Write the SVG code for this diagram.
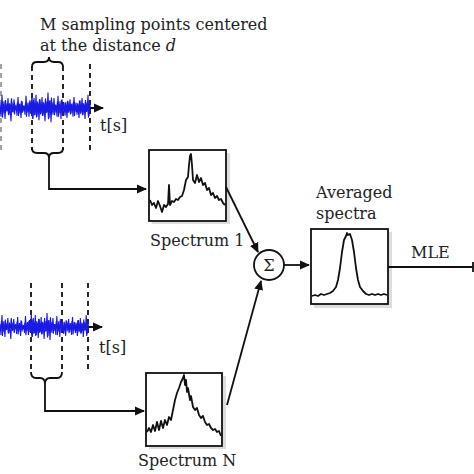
<svg xmlns="http://www.w3.org/2000/svg" width="474" height="474" viewBox="0 0 474 474">
<style>
text{font-family:"DejaVu Serif","Liberation Serif",serif;font-size:16px;fill:#222}
.box{fill:#fff;stroke:#111;stroke-width:1.8}
.spec{fill:none;stroke:#111;stroke-width:1.8;stroke-linejoin:round}
.dash{stroke:#111;stroke-width:1.8;stroke-dasharray:5,4;fill:none}
.ln{stroke:#111;stroke-width:1.8;fill:none}
.sig{fill:none;stroke:#1a1ae6;stroke-width:1.1}
.shadow{fill:#bbb;opacity:0.5}
</style>
<defs>
<marker id="ah" markerWidth="10" markerHeight="10" refX="9" refY="5" orient="auto" markerUnits="userSpaceOnUse">
<path d="M0,0.5 L10,5 L0,9.5 Z" fill="#111"/>
</marker>
<polyline id="noise" points="0,-3 1,8 2,-12 3,5 4,-6 5,10 6,-4 7,3 8,-9 9,6 10,-2 11,12 12,-5 13,4 14,-8 15,2 16,-3 17,7 18,-10 19,5 20,-4 21,9 22,-6 23,3 24,-2 25,6 26,-11 27,4 28,-5 29,8 30,-7 31,3 32,-13 33,10 34,-9 35,6 36,-12 37,8 38,-4 39,11 40,-8 41,5 42,-10 43,7 44,-3 45,12 46,-6 47,4 48,-14 49,9 50,-7 51,13 52,-5 53,6 54,-9 55,4 56,-3 57,8 58,-11 59,5 60,-6 61,10 62,-8 63,4 64,-5 65,7 66,-3 67,9 68,-6 69,2 70,-8 71,5 72,-4 73,8 74,-10 75,3 76,-5 77,6 78,-2 79,9 80,-7 81,4 82,-9 83,6 84,-3 85,10 86,-5 87,3 88,-12 89,7 90,0"/>
</defs>

<g id="top-label">
<text x="40" y="30">M sampling points centered</text>
<text x="40" y="51">at the distance <tspan font-style="italic">d</tspan></text>
</g>

<g id="signal-top">
<line x1="1" y1="64" x2="1" y2="152" stroke="#999" stroke-width="1.8" stroke-dasharray="5,4"/>
<line class="dash" x1="32" y1="66" x2="32" y2="150"/>
<line class="dash" x1="63" y1="66" x2="63" y2="150"/>
<line class="dash" x1="90" y1="64" x2="90" y2="152"/>
<line class="ln" x1="0" y1="108" x2="103" y2="108" marker-end="url(#ah)"/>
<use href="#noise" class="sig" transform="translate(0,108) scale(1,1.1)"/>
<use href="#noise" class="sig" transform="translate(0.5,108) scale(1,-0.8)"/>
<text x="100" y="131">t[s]</text>
<path class="ln" d="M32,67 Q32,62 37,62 L44,62 Q49,62 49,57 Q49,62 54,62 L58,62 Q63,62 63,67"/>
<path class="ln" d="M32,148 Q32,153 37,153 L44,153 Q49,153 49,158 Q49,153 54,153 L58,153 Q63,153 63,148"/>
</g>

<g id="signal-bottom">
<line class="dash" x1="31" y1="283" x2="31" y2="370"/>
<line class="dash" x1="62" y1="283" x2="62" y2="370"/>
<line class="dash" x1="88" y1="283" x2="88" y2="370"/>
<line class="ln" x1="0" y1="327" x2="102" y2="327" marker-end="url(#ah)"/>
<use href="#noise" class="sig" transform="translate(0,327) scale(0.98,1)"/>
<use href="#noise" class="sig" transform="translate(0.5,327) scale(0.98,-0.75)"/>
<text x="99" y="353">t[s]</text>
<path class="ln" d="M31,372 Q31,378 36,378 L40,378 Q45,378 45,384 Q45,378 50,378 L57,378 Q62,378 62,372"/>
</g>

<g id="spectrum1">
<rect class="shadow" x="152" y="153" width="78" height="71"/>
<rect class="box" x="149" y="150" width="77" height="71"/>
<path class="spec" d="M150,200 L152,205 L154,203 L156,208 L158,201 L160,206 L162,212 L164,205 L166,207 L168,204 L169,185 L170,205 L172,201 L174,202 L176,199 L178,200 L180,197 L182,196 L184,190 L186,180 L188,177 L189,165 L190,156 L191,154 L192,165 L193,180 L195,183 L197,175 L199,182 L201,178 L203,185 L205,183 L207,190 L209,188 L211,195 L213,193 L215,198 L217,196 L219,200 L221,199 L223,203 L225,205"/>
<text x="150" y="246">Spectrum 1</text>
</g>

<g id="spectrumN">
<rect class="shadow" x="149" y="376" width="77" height="73"/>
<rect class="box" x="146" y="373" width="76" height="73"/>
<path class="spec" d="M147,432 L149,428 L151,432 L153,425 L155,431 L157,422 L159,430 L161,421 L163,428 L165,420 L167,425 L169,417 L171,420 L173,410 L175,400 L177,393 L179,388 L181,382 L183,378 L184,375 L185,385 L186,380 L187,392 L188,388 L190,400 L191,396 L193,407 L195,410 L197,408 L199,415 L201,418 L203,416 L205,422 L207,425 L209,424 L211,428 L213,430 L215,429 L217,432 L219,431 L221,436"/>
<text x="138" y="466">Spectrum N</text>
</g>

<g id="sum">
<circle cx="269" cy="265" r="15" fill="#fff" stroke="#111" stroke-width="1.8"/>
<text x="269" y="271" text-anchor="middle" font-size="16">Σ</text>
</g>

<g id="averaged">
<text x="316" y="198">Averaged</text>
<text x="316" y="219">spectra</text>
<rect class="shadow" x="314" y="232" width="78" height="76"/>
<rect class="box" x="311" y="229" width="77" height="75"/>
<path class="spec" d="M312,296 L315,295 L318,296 L321,294 L324,295 L327,294 L330,293 L333,291 L336,287 L338,280 L340,268 L342,252 L344,240 L346,236 L347,233 L348,235 L350,234 L352,240 L354,252 L356,268 L358,280 L360,287 L363,291 L366,294 L369,295 L372,294 L375,295 L378,294 L381,295 L384,294 L387,295"/>
</g>

<g id="mle">
<text x="411" y="258">MLE</text>
</g>

<g id="connectors">
<polyline class="ln" points="49,158 49,189 146,189" marker-end="url(#ah)"/>
<polyline class="ln" points="45,384 45,411 144,411" marker-end="url(#ah)"/>
<line class="ln" x1="226" y1="187" x2="258" y2="252" marker-end="url(#ah)"/>
<line class="ln" x1="227" y1="405" x2="261" y2="281" marker-end="url(#ah)"/>
<line class="ln" x1="284" y1="265" x2="309" y2="265" marker-end="url(#ah)"/>
<line class="ln" x1="388" y1="267" x2="473" y2="267"/>
<line class="ln" x1="473" y1="262" x2="473" y2="272"/>
</g>
</svg>
